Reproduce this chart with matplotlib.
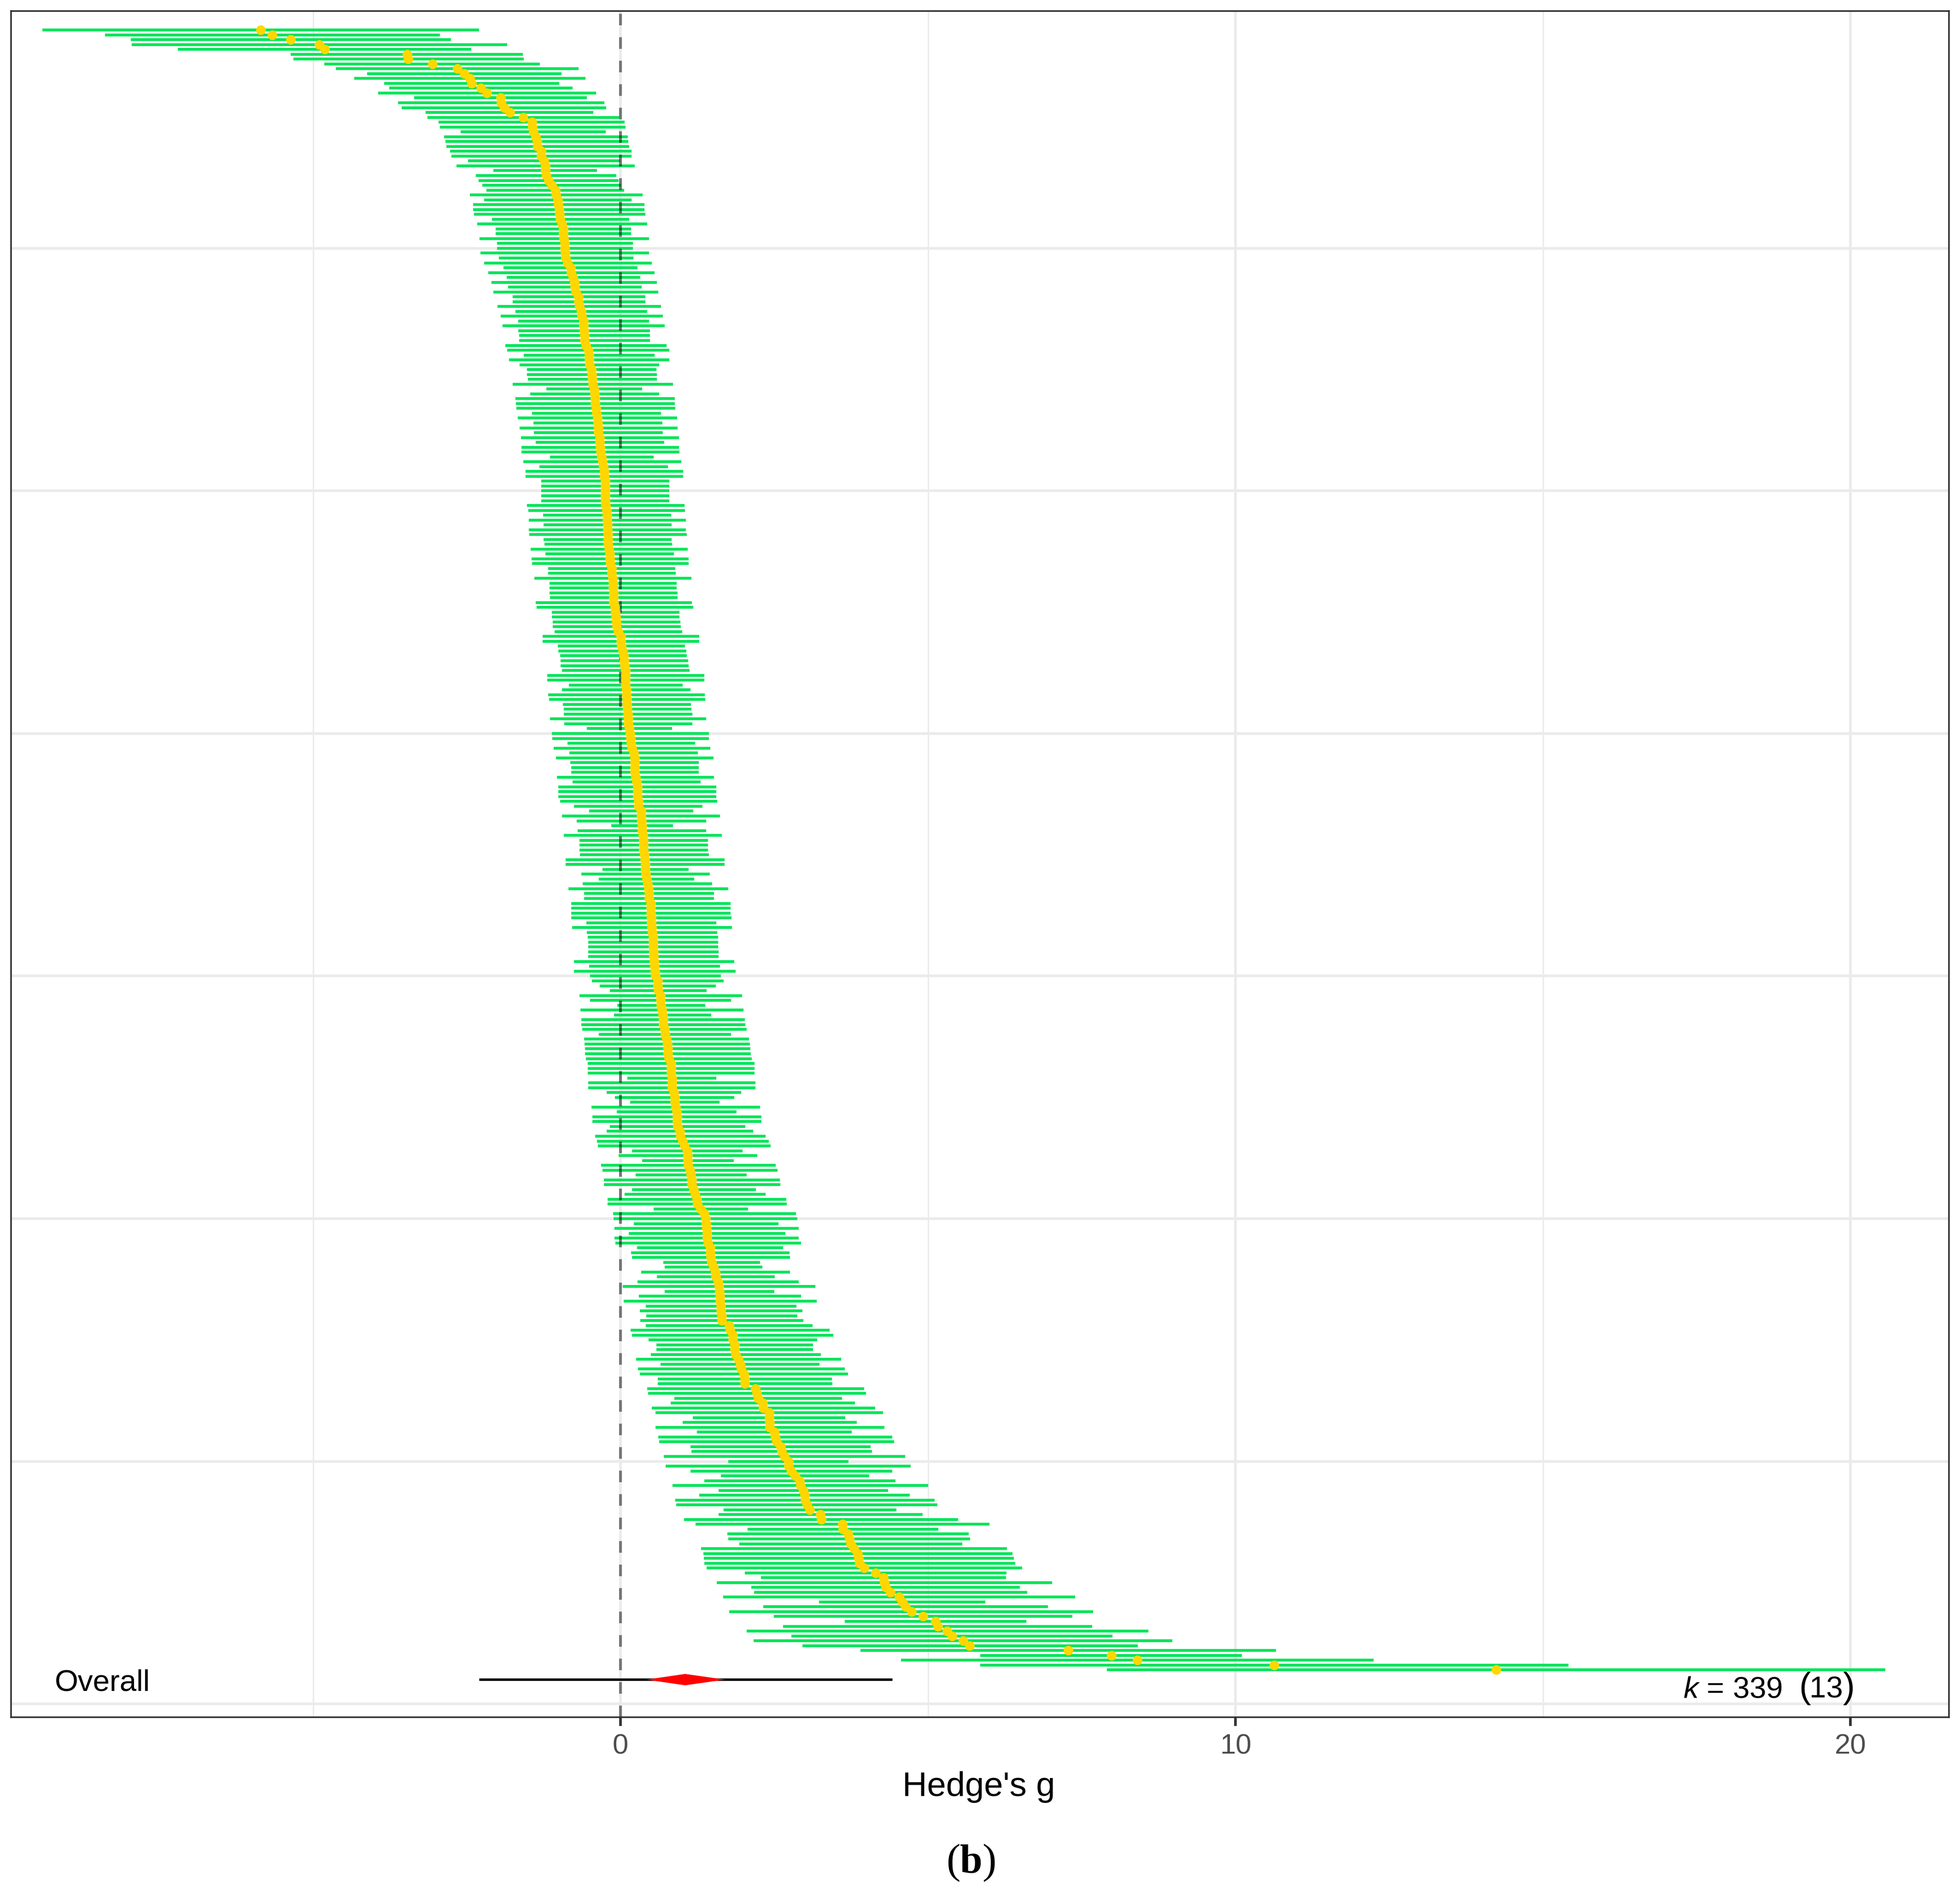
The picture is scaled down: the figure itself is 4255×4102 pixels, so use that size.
import matplotlib
matplotlib.use("Agg")
import matplotlib.pyplot as plt
import numpy as np

plt.rcParams["font.family"] = ["Liberation Sans", "DejaVu Sans"]
plt.rcParams["mathtext.fontset"] = "custom"
plt.rcParams["mathtext.it"] = "Liberation Sans:italic"
plt.rcParams["mathtext.rm"] = "Liberation Sans"

# ---------------- data (sorted by effect) ----------------
lower = [
    -9.40, -8.38, -7.96, -7.95, -7.20, -5.36, -5.32, -4.82, -4.63, -4.12,
    -4.33, -3.84, -3.76, -3.94, -3.36, -3.62, -3.56, -3.17, -3.14, -2.96,
    -2.94, -2.60, -2.87, -2.85, -2.83, -2.77, -2.75, -2.48, -2.67, -2.07,
    -2.35, -2.31, -2.25, -2.18, -2.45, -2.22, -2.40, -2.40, -2.38, -2.09,
    -2.33, -2.03, -2.03, -2.29, -2.01, -2.01, -2.28, -1.98, -2.22, -1.90,
    -2.15, -1.85, -2.10, -1.83, -2.07, -1.75, -1.75, -2.00, -1.71, -1.95,
    -1.66, -1.92, -1.66, -1.65, -1.65, -1.87, -1.84, -1.57, -1.81, -1.64,
    -1.52, -1.52, -1.51, -1.75, -1.21, -1.47, -1.71, -1.70, -1.69, -1.44,
    -1.67, -1.42, -1.64, -1.41, -1.62, -1.38, -1.61, -1.61, -1.15, -1.58,
    -1.32, -1.545, -1.545, -1.29, -1.29, -1.29, -1.29, -1.29, -1.52, -1.50,
    -1.26, -1.49, -1.25, -1.49, -1.485, -1.25, -1.24, -1.46, -1.22, -1.45,
    -1.44, -1.18, -1.18, -1.40, -1.155, -1.155, -1.155, -1.15, -1.38, -1.365,
    -1.12, -1.115, -1.105, -1.10, -1.075, -1.27, -1.27, -1.02, -1.01, -0.985,
    -0.975, -0.975, -0.955, -1.195, -1.195, -0.84, -0.95, -1.18, -1.165, -0.935,
    -0.925, -0.925, -1.15, -0.915, -0.55, -1.12, -1.11, -0.865, -1.09, -0.83,
    -1.05, -0.815, -0.805, -0.805, -1.035, -0.78, -1.01, -1.01, -1.01, -0.985,
    -0.755, -0.51, -0.95, -0.71, -0.15, -0.695, -0.925, -0.67, -0.67, -0.67,
    -0.66, -0.895, -0.89, -0.29, -0.64, -0.35, -0.615, -0.845, -0.59, -0.59,
    -0.805, -0.805, -0.805, -0.805, -0.555, -0.79, -0.545, -0.53, -0.525, -0.525,
    -0.525, -0.525, -0.76, -0.51, -0.755, -0.495, -0.465, -0.335, -0.17, -0.67,
    -0.495, -0.055, -0.655, -0.105, -0.635, -0.635, -0.62, -0.35, -0.59, -0.585,
    -0.575, -0.575, -0.56, -0.53, -0.53, -0.53, 0.11, -0.525, -0.525, -0.225,
    -0.09, 0.155, -0.47, -0.06, -0.455, -0.455, -0.17, -0.225, -0.41, -0.385,
    -0.365, 0.185, -0.03, 0.35, -0.315, -0.29, 0.245, -0.27, -0.27, 0.185,
    0.065, -0.21, -0.21, 0.535, -0.12, -0.11, 0.215, -0.095, 0.135, -0.095,
    -0.085, 0.27, 0.175, 0.185, 0.695, 0.72, 0.335, 0.59, 0.275, 0.035,
    0.715, 0.295, 0.05, 0.41, 0.31, 0.415, 0.32, 0.41, 0.165, 0.185,
    0.455, 0.585, 0.585, 0.49, 0.255, 0.65, 0.285, 0.31, 0.605, 0.605,
    0.43, 0.445, 0.875, 0.815, 0.505, 0.565, 1.175, 1.01, 0.565, 1.24,
    0.615, 0.63, 1.14, 1.155, 0.705, 1.755, 0.735, 1.14, 1.63, 1.36,
    0.845, 1.595, 1.28, 0.89, 0.905, 1.675, 1.595, 1.035, 1.22, 2.07,
    1.74, 1.755, 1.93, 1.31, 1.345, 1.355, 1.36, 1.40, 2.025, 2.28,
    1.565, 2.13, 2.17, 1.67, 3.23, 2.32, 1.77, 2.49, 3.65, 2.645,
    2.05, 2.775, 2.165, 2.96, 3.905, 5.845, 4.56, 5.845, 7.91,
]

upper = [
    -2.30, -2.94, -2.76, -1.84, -2.43, -1.59, -1.57, -1.31, -0.68, -0.96,
    -0.57, -1.00, -0.78, -0.40, -0.55, -0.26, -0.23, -0.44, -0.02, 0.07,
    0.08, -0.24, 0.12, 0.13, 0.14, 0.18, 0.18, -0.01, 0.23, -0.38,
    -0.07, -0.03, 0.01, 0.06, 0.36, 0.18, 0.39, 0.39, 0.40, 0.14,
    0.43, 0.17, 0.17, 0.46, 0.20, 0.20, 0.46, 0.21, 0.51, 0.28,
    0.55, 0.32, 0.59, 0.34, 0.61, 0.40, 0.40, 0.66, 0.43, 0.69,
    0.46, 0.72, 0.48, 0.48, 0.48, 0.75, 0.79, 0.55, 0.79, 0.63,
    0.58, 0.59, 0.59, 0.85, 0.35, 0.63, 0.88, 0.88, 0.89, 0.66,
    0.92, 0.68, 0.93, 0.69, 0.95, 0.71, 0.95, 0.96, 0.54, 0.99,
    0.77, 1.02, 1.02, 0.79, 0.79, 0.79, 0.79, 0.79, 1.04, 1.05,
    0.82, 1.06, 0.83, 1.065, 1.075, 0.83, 0.84, 1.09, 0.865, 1.105,
    1.105, 0.89, 0.90, 1.15, 0.915, 0.915, 0.925, 0.93, 1.16, 1.185,
    0.955, 0.96, 0.97, 0.98, 1.00, 1.28, 1.28, 1.05, 1.07, 1.08,
    1.10, 1.105, 1.12, 1.36, 1.36, 1.01, 1.135, 1.37, 1.38, 1.145,
    1.15, 1.165, 1.395, 1.165, 0.84, 1.435, 1.44, 1.215, 1.46, 1.255,
    1.51, 1.27, 1.275, 1.275, 1.52, 1.305, 1.555, 1.555, 1.56, 1.575,
    1.335, 1.18, 1.62, 1.39, 0.85, 1.395, 1.65, 1.425, 1.425, 1.425,
    1.435, 1.69, 1.695, 1.105, 1.45, 1.20, 1.49, 1.755, 1.52, 1.52,
    1.79, 1.79, 1.79, 1.805, 1.56, 1.815, 1.575, 1.59, 1.59, 1.59,
    1.595, 1.595, 1.85, 1.62, 1.875, 1.635, 1.68, 1.55, 1.40, 1.975,
    1.80, 1.375, 2.00, 1.475, 2.02, 2.03, 2.05, 1.80, 2.09, 2.105,
    2.11, 2.12, 2.135, 2.18, 2.18, 2.18, 1.56, 2.195, 2.195, 1.96,
    1.85, 1.61, 2.265, 1.89, 2.29, 2.29, 2.03, 2.155, 2.36, 2.41,
    2.44, 1.985, 2.22, 1.84, 2.52, 2.55, 2.05, 2.59, 2.595, 2.20,
    2.36, 2.695, 2.705, 2.075, 2.85, 2.875, 2.565, 2.90, 2.68, 2.90,
    2.935, 2.645, 2.745, 2.755, 2.265, 2.305, 2.755, 2.51, 2.90, 3.165,
    2.50, 2.935, 3.19, 2.86, 2.96, 2.875, 2.97, 3.12, 3.40, 3.46,
    3.20, 3.13, 3.13, 3.26, 3.585, 3.235, 3.645, 3.70, 3.435, 3.445,
    3.96, 3.99, 3.60, 3.81, 4.14, 4.265, 3.655, 3.84, 4.29, 3.76,
    4.415, 4.445, 4.065, 4.085, 4.63, 3.705, 4.72, 4.415, 4.04, 4.47,
    5.005, 4.35, 4.705, 5.11, 5.155, 4.485, 4.91, 5.49, 6.00, 5.17,
    5.66, 5.685, 5.56, 6.28, 6.37, 6.395, 6.415, 6.53, 6.275, 6.265,
    7.015, 6.49, 6.61, 7.39, 5.93, 6.95, 7.685, 7.345, 6.595, 7.67,
    8.58, 8.00, 8.975, 8.41, 10.66, 10.105, 12.245, 15.415, 20.565,
]

hedges_g = [
    -5.85, -5.66, -5.36, -4.90, -4.81, -3.47, -3.45, -3.06, -2.65, -2.54,
    -2.45, -2.42, -2.27, -2.17, -1.95, -1.94, -1.89, -1.80, -1.58, -1.44,
    -1.43, -1.42, -1.38, -1.36, -1.35, -1.29, -1.29, -1.245, -1.22, -1.22,
    -1.21, -1.17, -1.12, -1.06, -1.05, -1.02, -1.01, -1.00, -0.99, -0.98,
    -0.95, -0.93, -0.93, -0.92, -0.91, -0.905, -0.90, -0.89, -0.86, -0.81,
    -0.80, -0.77, -0.75, -0.745, -0.73, -0.68, -0.68, -0.67, -0.64, -0.63,
    -0.60, -0.60, -0.59, -0.585, -0.585, -0.56, -0.525, -0.51, -0.51, -0.505,
    -0.47, -0.465, -0.46, -0.45, -0.43, -0.42, -0.415, -0.41, -0.40, -0.39,
    -0.375, -0.37, -0.36, -0.36, -0.335, -0.335, -0.33, -0.325, -0.305, -0.295,
    -0.275, -0.26, -0.26, -0.25, -0.25, -0.25, -0.25, -0.25, -0.24, -0.225,
    -0.22, -0.215, -0.21, -0.21, -0.205, -0.205, -0.20, -0.185, -0.175, -0.17,
    -0.168, -0.145, -0.14, -0.125, -0.12, -0.12, -0.115, -0.11, -0.11, -0.09,
    -0.083, -0.077, -0.067, -0.06, -0.038, 0.005, 0.005, 0.016, 0.033, 0.049,
    0.06, 0.064, 0.082, 0.083, 0.083, 0.085, 0.093, 0.097, 0.105, 0.106,
    0.113, 0.12, 0.123, 0.125, 0.145, 0.157, 0.165, 0.175, 0.185, 0.213,
    0.228, 0.229, 0.235, 0.235, 0.243, 0.262, 0.273, 0.273, 0.275, 0.29,
    0.292, 0.335, 0.335, 0.34, 0.35, 0.35, 0.363, 0.377, 0.377, 0.377,
    0.387, 0.397, 0.403, 0.407, 0.408, 0.425, 0.438, 0.455, 0.465, 0.465,
    0.493, 0.493, 0.493, 0.50, 0.503, 0.512, 0.515, 0.528, 0.533, 0.533,
    0.537, 0.537, 0.545, 0.555, 0.56, 0.57, 0.607, 0.608, 0.615, 0.653,
    0.653, 0.66, 0.672, 0.685, 0.693, 0.698, 0.715, 0.725, 0.75, 0.76,
    0.768, 0.772, 0.787, 0.825, 0.825, 0.825, 0.835, 0.835, 0.835, 0.868,
    0.88, 0.883, 0.898, 0.914, 0.917, 0.917, 0.93, 0.965, 0.975, 1.013,
    1.037, 1.085, 1.095, 1.096, 1.103, 1.13, 1.148, 1.16, 1.163, 1.193,
    1.212, 1.243, 1.248, 1.305, 1.365, 1.382, 1.39, 1.402, 1.407, 1.408,
    1.425, 1.458, 1.46, 1.47, 1.48, 1.513, 1.545, 1.55, 1.588, 1.60,
    1.608, 1.615, 1.62, 1.635, 1.635, 1.645, 1.645, 1.765, 1.783, 1.823,
    1.828, 1.858, 1.858, 1.875, 1.92, 1.943, 1.965, 2.005, 2.02, 2.025,
    2.195, 2.218, 2.238, 2.313, 2.323, 2.415, 2.415, 2.425, 2.428, 2.50,
    2.515, 2.538, 2.603, 2.62, 2.668, 2.73, 2.73, 2.778, 2.835, 2.915,
    2.925, 2.973, 2.993, 3.00, 3.03, 3.08, 3.253, 3.263, 3.61, 3.62,
    3.70, 3.72, 3.745, 3.795, 3.858, 3.875, 3.888, 3.965, 4.15, 4.273,
    4.29, 4.31, 4.39, 4.53, 4.58, 4.635, 4.73, 4.92, 5.12, 5.16,
    5.31, 5.39, 5.57, 5.68, 7.28, 7.98, 8.40, 10.63, 14.24,
]

overall_est = 1.05
overall_ci = (0.42, 1.70)
overall_pi = (-2.30, 4.42)
overall_label = "Overall"
k_label = "339"
k_extra = "13"
x_ticks = [0, 10, 20]
x_ticklabels = ["0", "10", "20"]
x_label = "Hedge's g"
panel_tag = "b"

# ---------------- figure ----------------
W, H = 4255, 4102
DPI = 300
fig = plt.figure(figsize=(W / DPI, H / DPI), dpi=DPI)
L, R, T, B = 24, 4231, 24, 3727
ax = fig.add_axes([L / W, 1 - B / H, (R - L) / W, (B - T) / H])
ax.set_xlim(-9.91, 21.60)
ax.set_ylim(-2.75, 348.9)

n = len(hedges_g)
assert len(lower) == n and len(upper) == n
ypos = 345 - np.arange(n)
overall_y = 5

# grid
for xv in [0, 10, 20]:
    ax.axvline(xv, color="#EBEBEB", lw=1.37, zorder=0.5)
for xv in [-5, 5, 15]:
    ax.axvline(xv, color="#EBEBEB", lw=0.75, zorder=0.5)
for yv in range(0, 301, 50):
    ax.axhline(yv, color="#EBEBEB", lw=1.37, zorder=0.5)

# study CIs
ax.hlines(ypos, lower, upper, color="#00E45A", lw=1.5, zorder=2, capstyle="butt")
# reference line
ax.axvline(0, color="black", alpha=0.5, lw=1.44, linestyle=(0, (4.2, 4.3)), zorder=2.5)
# points
ax.plot(hedges_g, ypos, "o", ms=5.0, color="#FFD700", mec="none", zorder=3)

# overall
ax.hlines([overall_y], [overall_pi[0]], [overall_pi[1]], color="black", lw=1.3, zorder=3,
          capstyle="butt")
dh = 1.17
ax.fill([overall_ci[0], overall_est, overall_ci[1], overall_est],
        [overall_y, overall_y + dh, overall_y, overall_y - dh],
        color="#FF0000", lw=0, zorder=4)

ax.text(-9.2, 2.69, overall_label, fontsize=15.7, ha="left", va="baseline", color="black")
ax.text(18.89, 1.25, r"$k$ = " + k_label, fontsize=15.7, ha="right", va="baseline")
ax.text(19.26, 1.25, "(", fontsize=18.6, ha="center", va="baseline")
ax.text(19.60, 1.25, k_extra, fontsize=15.7, ha="center", va="baseline")
ax.text(19.97, 1.25, ")", fontsize=18.6, ha="center", va="baseline")

# axes styling
ax.set_xticks(x_ticks)
ax.set_xticklabels(x_ticklabels)
ax.set_yticks([])
ax.tick_params(axis="x", direction="out", length=4.56, width=1.37, color="#333333",
               labelsize=14.8, labelcolor="#4D4D4D", pad=4.0)
for s in ax.spines.values():
    s.set_color("#333333")
    s.set_linewidth(0.85)

fig.text(2124.5 / W, 1 - 3897.7 / H, x_label, fontsize=17.8, ha="center", va="baseline")

yb = 1 - 4065 / H
fig.text(2070 / W, yb, "(", family="Liberation Serif", fontsize=22, ha="center", va="baseline")
fig.text(2108 / W, yb, panel_tag, family="Liberation Serif", fontweight="bold", fontsize=21,
         ha="center", va="baseline")
fig.text(2148 / W, yb, ")", family="Liberation Serif", fontsize=22, ha="center", va="baseline")

fig.savefig("out.png", dpi=DPI)
